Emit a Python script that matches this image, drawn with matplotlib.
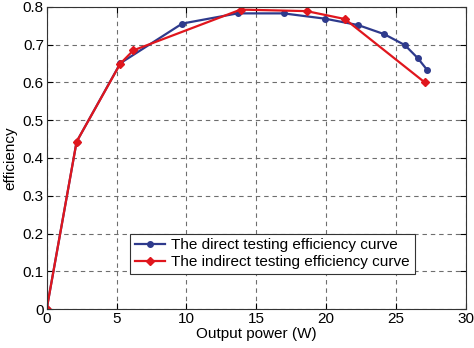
import matplotlib.pyplot as plt

plt.rcParams["font.family"] = ["Liberation Sans", "DejaVu Sans"]

# output power (W) and efficiency for both test methods
direct_power = [0, 2.14, 5.27, 9.70, 13.66, 16.95, 19.91, 22.29, 24.15, 25.63, 26.54, 27.23]
direct_eff = [0, 0.443, 0.651, 0.756, 0.783, 0.783, 0.769, 0.752, 0.728, 0.699, 0.665, 0.633]

indirect_power = [0, 2.14, 5.27, 6.20, 13.88, 18.60, 21.34, 27.06]
indirect_eff = [0, 0.443, 0.650, 0.685, 0.793, 0.789, 0.768, 0.600]

fig = plt.figure(figsize=(4.74, 3.48), dpi=100)
ax = fig.add_axes([0.0985, 0.112, 0.8845, 0.868])

ax.plot(direct_power, direct_eff, color="#2e3a8c", marker="o", markersize=4,
        linewidth=1.6, label="The direct testing efficiency curve")
ax.plot(indirect_power, indirect_eff, color="#e0161d", marker="D", markersize=4.5,
        linewidth=1.6, label="The indirect testing efficiency curve")

ax.set_xlim(0, 30)
ax.set_ylim(0, 0.8)
ax.set_xticks(range(0, 31, 5))
ax.set_yticks([0, 0.1, 0.2, 0.3, 0.4, 0.5, 0.6, 0.7, 0.8])
ax.set_yticklabels(["0", "0.1", "0.2", "0.3", "0.4", "0.5", "0.6", "0.7", "0.8"])
ax.tick_params(direction="in", labelsize=11, top=True, right=True, length=4, pad=2)
ax.grid(True, linestyle=(0, (4, 3.5)), color="#6e6e6e", linewidth=0.8)
ax.set_axisbelow(True)
for s in ax.spines.values():
    s.set_color("#333333")

ax.set_xlabel("Output power (W)", fontsize=11, labelpad=1)
ax.set_ylabel("efficiency", fontsize=11, labelpad=4)

leg = ax.legend(loc="upper left", bbox_to_anchor=(0.181, 0.275), fontsize=11,
                fancybox=False, framealpha=1, edgecolor="#333333",
                borderpad=0.3, labelspacing=0.2, handlelength=2.0, handletextpad=0.4)
leg.get_frame().set_linewidth(0.8)

fig.savefig("out.png", dpi=100)
